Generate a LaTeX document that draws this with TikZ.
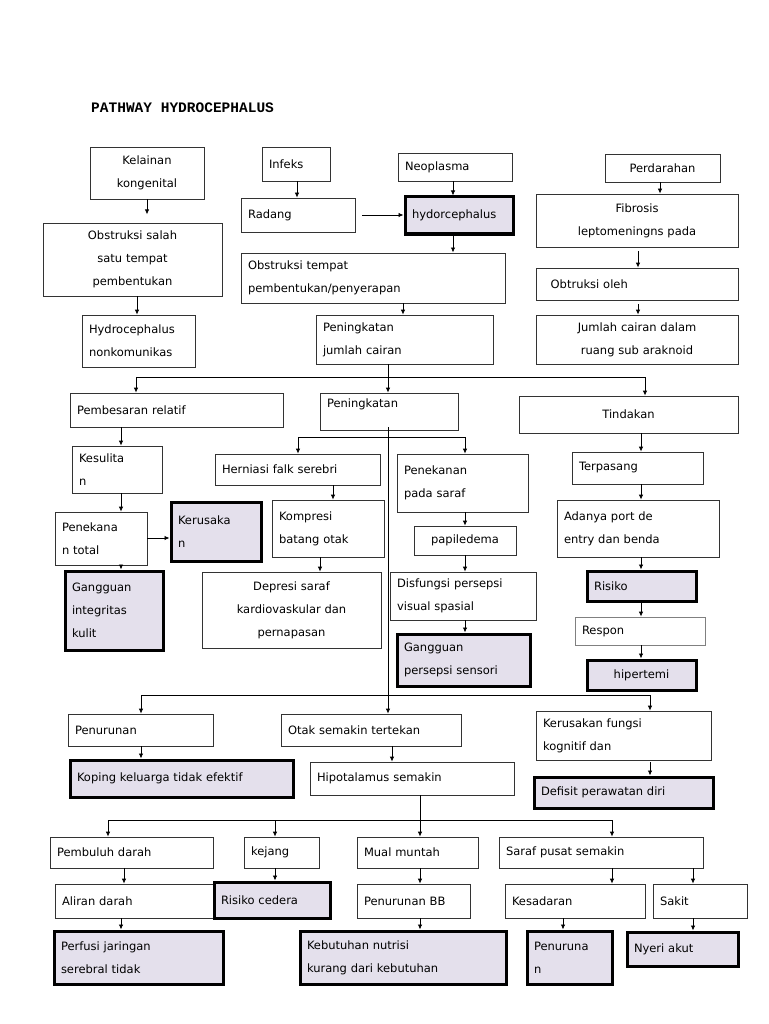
\documentclass[tikz,border=0pt]{standalone}
\usepackage{fontspec}
\setmainfont{DejaVu Sans}
\newfontfamily\titlefont{Liberation Mono}
\usetikzlibrary{arrows.meta}
\definecolor{lav}{HTML}{E4E0EC}
\tikzset{
  box/.style={draw=black!80,line width=0.8pt,rectangle,inner sep=0pt,font=\fontsize{11.5}{23}\selectfont},
  hl/.style={line width=3pt,draw=black,fill=lav},
  arr/.style={-{Latex[length=5pt,width=4.5pt]},line width=0.8pt},
  ln/.style={line width=0.8pt}
}
\newcommand\bx[7][]{%
  \pgfmathsetmacro\bw{#5-#3}\pgfmathsetmacro\bh{#6-#4}\pgfmathsetmacro\tw{#5-#3-14}%
  \pgfmathsetmacro\cx{(#3+#5)/2}\pgfmathsetmacro\cy{-(#4+#6)/2}%
  \node[box,minimum width=\bw pt,minimum height=\bh pt,text width=\tw pt,align=left,#1] (#2) at (\cx,\cy) {#7};}
\begin{document}
\begin{tikzpicture}[x=1pt,y=1pt]
\useasboundingbox[fill=white] (0,0) rectangle (768,-1024);
\node[anchor=west,inner sep=0pt,font=\titlefont\bfseries\fontsize{14.5}{16}\selectfont] (title) at (91,-108) {PATHWAY HYDROCEPHALUS};
% row 1
\bx[align=center]{kel}{90}{147}{204}{199}{Kelainan\\kongenital}
\bx{inf}{262}{147}{330}{181}{Infeks}
\bx{neo}{398}{153}{512}{181}{Neoplasma}
\bx[align=center]{perd}{605}{154}{720}{182}{Perdarahan}
\bx{rad}{241}{198}{355}{232}{Radang}
\bx[hl]{hyd}{405}{197}{513}{234}{hydorcephalus}
\bx[align=center]{fib}{536}{194}{738}{247}{Fibrosis\\leptomeningns pada}
\bx[align=center]{obs1}{43}{223}{222}{296}{Obstruksi salah\\satu tempat\\pembentukan}
\bx{obs2}{241}{253}{505}{303}{Obstruksi tempat\\pembentukan/penyerapan}
\bx{obt}{536}{268}{738}{300}{\ \ Obtruksi oleh}
\bx{hnk}{82}{315}{195}{367}{Hydrocephalus\\nonkomunikas}
\bx{pjc}{316}{315}{493}{364}{Peningkatan\\jumlah cairan}
\bx[align=center]{jcd}{536}{315}{738}{364}{Jumlah cairan dalam\\ruang sub araknoid}
% row 2
\bx{pemb}{70}{393}{283}{427}{Pembesaran relatif}
\bx{pen2}{320}{393}{458}{430}{Peningkatan\\[-6pt]\mbox{}}
\bx[align=center]{tind}{519}{396}{738}{433}{Tindakan}
\bx{kes}{72}{446}{162}{493}{Kesulita\\n}
\bx{her}{215}{454}{380}{485}{Herniasi falk serebri}
\bx{pns}{397}{454}{528}{512}{Penekanan\\pada saraf}
\bx{terp}{572}{452}{703}{484}{Terpasang}
\bx{pnt}{55}{512}{147}{565}{Penekana\\n total}
\bx[hl]{ker}{171}{502}{261}{561}{Kerusaka\\n}
\bx{komp}{272}{500}{384}{557}{Kompresi\\batang otak}
\bx[align=center]{pap}{414}{526}{516}{555}{papiledema}
\bx{adn}{557}{500}{719}{557}{Adanya port de\\entry dan benda}
\bx[hl]{gg1}{65}{571}{163}{650}{Gangguan\\integritas\\kulit}
\bx[align=center]{dep}{202}{572}{381}{648}{Depresi saraf\\kardiovaskular dan\\pernapasan}
\bx{dis}{390}{572}{536}{620}{Disfungsi persepsi\\visual spasial}
\bx[hl]{ris}{587}{571}{696}{601}{Risiko}
\bx[draw=black!50]{resp}{575}{617}{705}{645}{Respon}
\bx[hl]{gg2}{397}{634}{530}{686}{Gangguan\\persepsi sensori}
\bx[hl,align=center]{hip}{587}{660}{696}{690}{hipertemi}
% row 4
\bx{penu}{68}{714}{213}{746}{Penurunan}
\bx{otak}{281}{714}{461}{746}{Otak semakin tertekan}
\bx{kfu}{536}{711}{711}{760}{Kerusakan fungsi\\kognitif dan}
\bx[hl]{kop}{70}{760}{293}{797}{Koping keluarga tidak efektif}
\bx{hipo}{310}{762}{514}{795}{Hipotalamus semakin}
\bx[hl]{def}{534}{777}{713}{808}{Defisit perawatan diri}
% row 5
\bx{pbd}{50}{837}{213}{868}{Pembuluh darah}
\bx{kej}{244}{837}{319}{868}{kejang}
\bx{mual}{357}{837}{478}{868}{Mual muntah}
\bx{sps}{499}{837}{703}{868}{Saraf pusat semakin}
\bx{ali}{55}{884}{215}{918}{Aliran darah}
\bx[hl]{rc}{214}{882}{330}{918}{Risiko cedera}
\bx{pbb}{357}{884}{470}{918}{Penurunan BB}
\bx{ksd}{505}{884}{645}{918}{Kesadaran}
\bx{skt}{653}{884}{747}{918}{Sakit}
\bx[hl]{per}{54}{931}{223}{984}{Perfusi jaringan\\serebral tidak}
\bx[hl]{keb}{300}{931}{506}{984}{Kebutuhan nutrisi\\kurang dari kebutuhan}
\bx[hl]{pnr}{527}{931}{612}{984}{Penuruna\\n}
\bx[hl]{nyr}{627}{932}{738}{966}{Nyeri akut}
% connectors row 1
\draw[arr] (147,0 |- kel.south) -- ++(0,-15);
\draw[arr] (137,0 |- obs1.south) -- (137,0 |- hnk.north);
\draw[arr] (297,0 |- inf.south) -- (297,0 |- rad.north);
\coordinate (radr) at (362,-215);
\draw[arr] (radr) -- (hyd.west |- radr);
\draw[arr] (453,0 |- neo.south) -- (453,0 |- hyd.north);
\draw[arr] (453,0 |- hyd.south) -- ++(0,-17);
\draw[arr] (403,0 |- obs2.south) -- (403,0 |- pjc.north);
\draw[arr] (660,0 |- perd.south) -- (660,0 |- fib.north);
\draw[arr] (638,0 |- fib.south) ++(0,-4) -- (638,0 |- obt.north);
\draw[arr] (638,0 |- obt.south) ++(0,-4) -- (638,0 |- jcd.north);
% bus 1
\coordinate (b1) at (388,-377);
\draw[ln] (388,0 |- pjc.south) -- (b1);
\draw[ln] (136,-377) -- (645,-377);
\draw[arr] (136,-377) -- (136,0 |- pemb.north);
\draw[arr] (b1) -- (388,0 |- pen2.north);
\draw[arr] (645,-377) -- (645,0 |- tind.north);
% row 2 connectors
\draw[arr] (121,0 |- pemb.south) -- (121,0 |- kes.north);
\draw[arr] (121,0 |- kes.south) -- (121,0 |- pnt.north);
\draw[arr] (121,0 |- pnt.south) -- (121,0 |- gg1.north);
\draw[arr] (pnt.east |- 0,-538) -- (ker.west |- 0,-538);
\coordinate (b2) at (388,-437);
\draw[ln] (298,-437) -- (465,-437);
\draw[arr] (298,-437) -- (298,0 |- her.north);
\draw[arr] (465,-437) -- (465,0 |- pns.north);
\draw[arr] (333,0 |- her.south) -- (333,0 |- komp.north);
\draw[arr] (320,0 |- komp.south) -- (320,0 |- dep.north);
\draw[arr] (465,0 |- pns.south) -- (465,0 |- pap.north);
\draw[arr] (465,0 |- pap.south) -- (465,0 |- dis.north);
\draw[arr] (465,0 |- dis.south) -- (465,0 |- gg2.north);
\draw[arr] (641,0 |- tind.south) -- (641,0 |- terp.north);
\draw[arr] (641,0 |- terp.south) -- (641,0 |- adn.north);
\draw[arr] (641,0 |- adn.south) -- (641,0 |- ris.north);
\draw[arr] (641,0 |- ris.south) -- (641,0 |- resp.north);
\draw[arr] (641,0 |- resp.south) -- (641,0 |- hip.north);
% bus 3
\coordinate (b3) at (388,-695);
\draw[ln] (388,-427) -- (b3);
\draw[ln] (141,-695) -- (650,-695);
\draw[arr] (141,-695) -- (141,0 |- penu.north);
\draw[arr] (b3) -- (388,0 |- otak.north);
\draw[arr] (650,-695) -- (650,0 |- kfu.north);
\draw[arr] (141,0 |- penu.south) -- (141,0 |- kop.north);
\draw[arr] (392,0 |- otak.south) -- (392,0 |- hipo.north);
\draw[arr] (650,0 |- kfu.south) ++(0,-2) -- (650,0 |- def.north);
% bus 4
\coordinate (b4) at (420,-820);
\draw[ln] (420,0 |- hipo.south) -- (b4);
\draw[ln] (108,-820) -- (612,-820);
\draw[arr] (108,-820) -- (108,0 |- pbd.north);
\draw[arr] (275,-820) -- (275,0 |- kej.north);
\draw[arr] (420,-820) -- (420,0 |- mual.north);
\draw[arr] (612,-820) -- (612,0 |- sps.north);
\draw[arr] (124,0 |- pbd.south) -- (124,0 |- ali.north);
\draw[arr] (121,0 |- ali.south) -- (121,0 |- per.north);
\draw[arr] (275,0 |- kej.south) -- (275,0 |- rc.north);
\draw[arr] (420,0 |- mual.south) -- (420,0 |- pbb.north);
\draw[arr] (420,0 |- pbb.south) -- (420,0 |- keb.north);
\draw[arr] (612,0 |- sps.south) -- (612,0 |- ksd.north);
\draw[arr] (693,0 |- sps.south) -- (693,0 |- skt.north);
\draw[arr] (563,0 |- ksd.south) -- (563,0 |- pnr.north);
\draw[arr] (693,0 |- skt.south) -- (693,0 |- nyr.north);
\end{tikzpicture}
\end{document}
